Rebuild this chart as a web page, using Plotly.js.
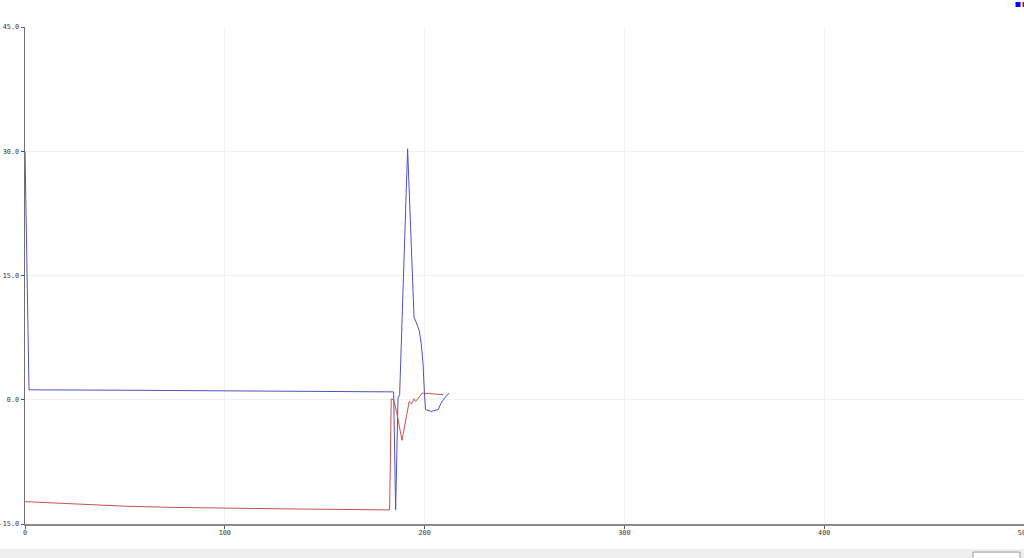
<!DOCTYPE html>
<html>
<head>
<meta charset="utf-8">
<script src="https://cdn.plot.ly/plotly-3.0.1.min.js"></script>
<style>
html,body{margin:0;padding:0;background:#fff;}
#chart{width:1024px;height:558px;}
</style>
</head>
<body>
<div id="chart"></div>
<script>
// Series (x = sample index)
const blueX = [0, 2, 50, 100, 150, 184.5, 185.5, 186.7, 187.5, 191.5, 194.7, 196.7, 197.3, 198.3, 199.2, 200, 200.5, 203.3, 206.7, 208.3, 210, 212.2];
const blueY = [30.0, 1.2, 1.15, 1.1, 1.0, 0.95, -13.3, 0.2, 0.6, 30.3, 10.0, 8.8, 8.4, 6.8, 4.4, 0.4, -1.2, -1.4, -1.2, -0.4, 0.2, 0.8];

const redX = [0, 25, 50, 75, 100, 140, 182.5, 183.3, 184.5, 186, 188.7, 190.5, 192.3, 193.5, 194.7, 195.5, 198.8, 202, 209.5];
const redY = [-12.3, -12.6, -12.85, -13.0, -13.1, -13.2, -13.3, 0.1, 0.0, -1.5, -4.9, -2.5, -0.2, -0.5, 0.1, -0.2, 0.8, 0.75, 0.6];

const xTicks = [0, 100, 200, 300, 400, 500];
const yTicks = [-15, 0, 15, 30, 45];

const traces = [
  {x: blueX, y: blueY, mode: 'lines', name: 'value1', line: {color: '#5050c0', width: 1}},
  {x: redX, y: redY, mode: 'lines', name: 'value2', line: {color: '#cc5050', width: 1}}
];

const tickFont = {family: 'DejaVu Sans Mono', size: 6.8, color: '#333'};

const layout = {
  width: 1024, height: 558,
  margin: {l: 25, r: 0, t: 27, b: 34, pad: 0},
  paper_bgcolor: '#ffffff', plot_bgcolor: '#ffffff',
  showlegend: false,
  xaxis: {
    range: [0, 500], tickvals: xTicks, ticktext: xTicks.map(String),
    showgrid: true, gridcolor: '#f1f1f1', gridwidth: 1,
    zeroline: false, showline: true, linecolor: '#8a8a8a', linewidth: 1.5,
    ticks: 'outside', ticklen: 3, tickcolor: '#555', tickfont: tickFont,
    ticklabelstandoff: -2, ticklabeloverflow: 'allow'
  },
  yaxis: {
    range: [-15, 45], tickvals: yTicks, ticktext: yTicks.map(v => v.toFixed(1)),
    showgrid: true, gridcolor: '#f1f1f1', gridwidth: 1,
    zeroline: false, showline: true, linecolor: '#707070', linewidth: 1.5,
    ticks: 'outside', ticklen: 3, tickcolor: '#555', tickfont: tickFont,
    ticklabelstandoff: -1.5, ticklabeloverflow: 'allow'
  },
  shapes: [
    // bottom toolbar strip
    {type: 'rect', xref: 'paper', yref: 'paper', x0: -0.03, x1: 1.01, y0: -0.0505, y1: -0.07,
     fillcolor: '#eeeeee', line: {width: 0}, layer: 'below'},
    {type: 'rect', xref: 'paper', yref: 'paper', x0: 0.949, x1: 0.996, y0: -0.0565, y1: -0.07,
     fillcolor: '#ffffff', line: {width: 1, color: '#999'}},
    // legend swatches (top right, clipped)
    {type: 'rect', xref: 'paper', yref: 'paper', x0: 0.9915, x1: 0.9965, y0: 1.0403, y1: 1.0503,
     fillcolor: '#0000ff', line: {width: 0}},
    {type: 'rect', xref: 'paper', yref: 'paper', x0: 0.9985, x1: 1.001, y0: 1.0403, y1: 1.0503,
     fillcolor: '#cc0000', line: {width: 0}}
  ]
};

Plotly.newPlot('chart', traces, layout, {displayModeBar: false, staticPlot: true});
</script>
</body>
</html>
